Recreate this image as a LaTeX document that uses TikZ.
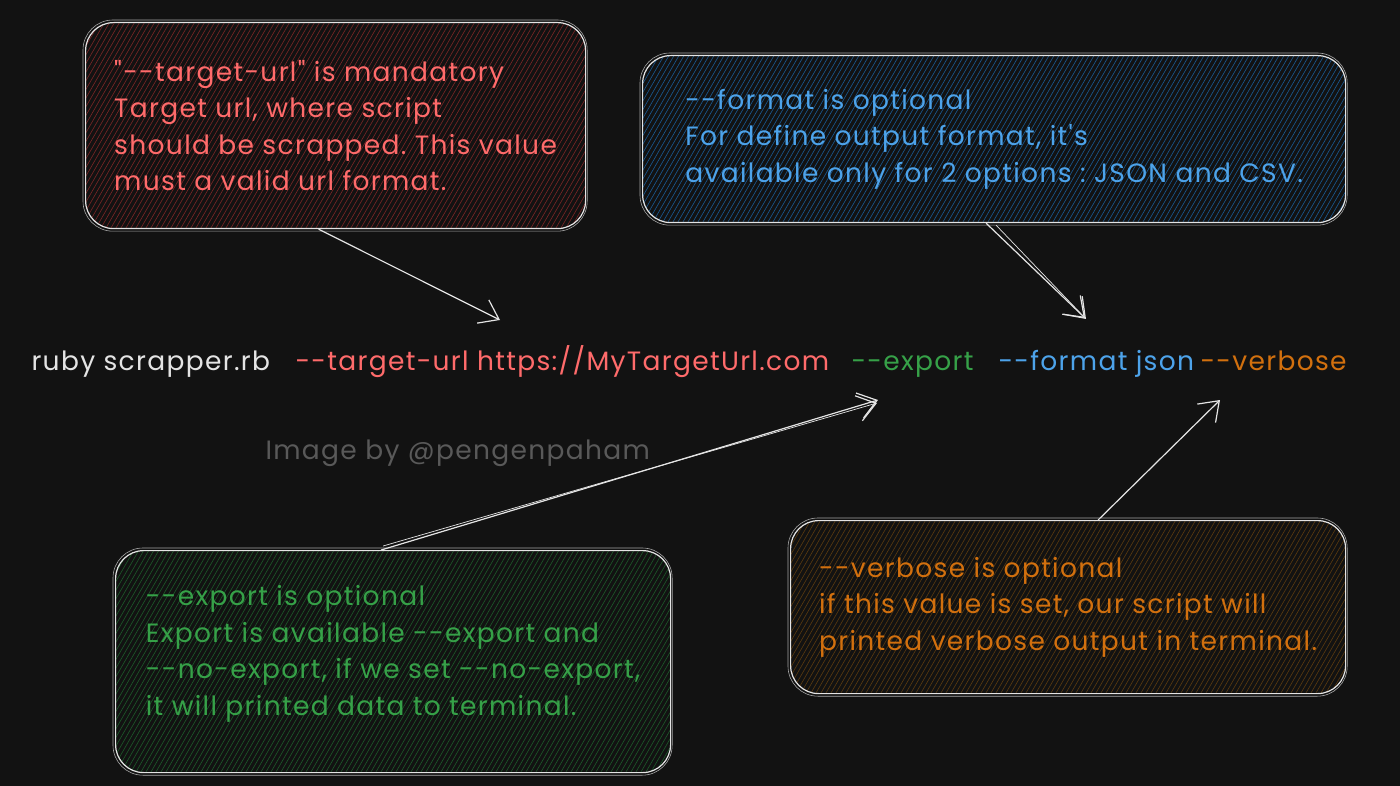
\documentclass[tikz,border=0pt]{standalone}
\usepackage{fontspec}
\setmainfont{Poppins}[Ligatures=TeXOff, LetterSpace=5]
\usetikzlibrary{arrows.meta}
\frenchspacing

\definecolor{canvas}{HTML}{121212}
\definecolor{sketch}{HTML}{E4E4E4}
\definecolor{redink}{HTML}{FF6B6B}
\definecolor{blueink}{HTML}{4DA3EA}
\definecolor{greenink}{HTML}{36A148}
\definecolor{orangeink}{HTML}{D2700E}
\definecolor{redfill}{HTML}{7A2626}
\definecolor{bluefill}{HTML}{1A5A94}
\definecolor{greenfill}{HTML}{1D5A2A}
\definecolor{orangefill}{HTML}{5A3A10}

\tikzset{
  note/.style={draw=sketch, line width=1.2pt, rounded corners=28pt,
    anchor=north west, inner sep=0pt, align=left,
    font=\fontsize{26.5}{36.5}\selectfont},
  hatch/.style={path picture={
    \foreach \k in {-160,-155,...,720}
      \draw[#1, line width=0.6pt]
        ([xshift=\k pt]path picture bounding box.south west) -- ++(150,-260);}},
  restroke/.style={draw=sketch, line width=0.6pt, opacity=0.7, rounded corners=30pt},
  cmd/.style={anchor=base west, font=\fontsize{26.5}{28}\selectfont},
  callout/.style={draw=sketch, line width=1.2pt,
    -{Straight Barb[length=18pt,width=26pt,line width=1.2pt]}},
}

\begin{document}
\begin{tikzpicture}[x=1pt, y=-1pt]
  \fill[canvas] (0,0) rectangle (1400,786);
  \useasboundingbox (0,0) rectangle (1400,786);

  % notes
  \node[note, hatch=redfill, text=redink, minimum width=500, minimum height=206]
    (target) at (85,22)
    {"--target-url" is mandatory\\Target url, where script\\should be scrapped. This value\\must a valid url format.};
  \node[note, hatch=bluefill, text=blueink, minimum width=703, minimum height=167]
    (format) at (642,55)
    {--format is optional\\For define output format, it's\\available only for 2 options : JSON and CSV.};
  \node[note, hatch=greenfill, text=greenink, minimum width=555, minimum height=222,
    text depth=22pt] (export) at (115,550)
    {--export is optional\\Export is available --export and\\--no-export, if we set --no-export,\\it will printed data to terminal.};
  \node[note, hatch=orangefill, text=orangeink, minimum width=555, minimum height=173]
    (verbose) at (790,520)
    {--verbose is optional\\if this value is set, our script will\\printed verbose output in terminal.};

  % second sketchy stroke
  \foreach \n in {target,format,export,verbose}
    \draw[restroke] ([shift={(-2,-2)}]\n.north west) rectangle ([shift={(1,2)}]\n.south east);

  % command line
  \node[cmd, text=sketch] (ruby) at (28,370) {ruby scrapper.rb};
  \node[cmd, text=redink] (turl) at (292,370) {--target-url https://MyTargetUrl.com};
  \node[cmd, text=greenink] (exp) at (848,370) {--export};
  \node[cmd, text=blueink] (fmt) at (995,370) {--format json};
  \node[cmd, text=orangeink] (verb) at (1197,370) {--verbose};

  \node[anchor=base west, text=black!65!white, font=\fontsize{26.5}{28}\selectfont]
    (credit) at (262,459) {Image by @pengenpaham};

  % arrow ends
  \coordinate (turltip) at (500,320);
  \coordinate (fmttip) at (1085,318);
  \coordinate (exptip) at (878,400);
  \coordinate (verbtip) at (1220,400);

  \draw[callout] ([xshift=-17]target.south) -- (turltip);
  \draw[callout] ([xshift=-8]format.south) -- (fmttip);
  \draw[callout, line width=0.7pt] ([shift={(2,2)}]format.south) -- ([shift={(1,1)}]fmttip);
  \draw[callout] ([xshift=-12]export.north) -- (exptip);
  \draw[callout, line width=0.7pt] ([shift={(-10,-4)}]export.north) -- ([shift={(-1,3)}]exptip);
  \draw[callout] ([xshift=30]verbose.north) -- (verbtip);
\end{tikzpicture}
\end{document}
